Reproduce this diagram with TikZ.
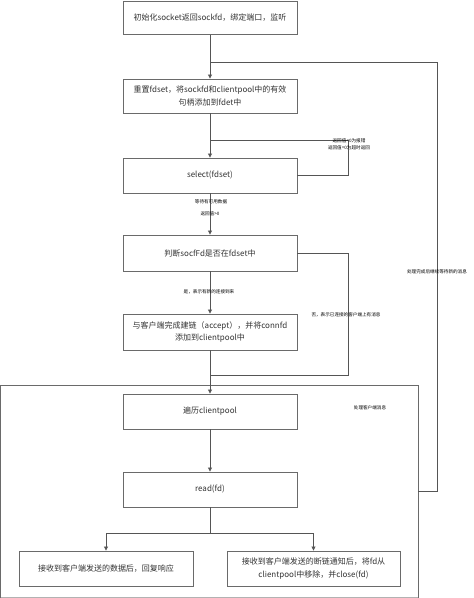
\documentclass[tikz,border=0pt]{standalone}
\usepackage{fontspec}
\setmainfont{Noto Sans CJK SC}
\usetikzlibrary{arrows.meta}
\definecolor{boxline}{HTML}{6A6A6A}
\definecolor{wire}{HTML}{555555}
\definecolor{txt}{HTML}{333333}
\tikzset{
  stepbox/.style={draw=boxline, line width=0.9pt, fill=white, minimum width=174pt, minimum height=35pt,
    align=center, text=txt, font=\fontsize{8}{12.5}\selectfont, inner sep=1pt},
  wireline/.style={draw=wire, line width=0.8pt},
  arr/.style={wireline, -{Triangle[width=4pt,length=4pt]}},
  small/.style={font=\fontsize{4.6}{7}\selectfont, text=black, inner sep=0pt, align=center}
}
\begin{document}
\begin{tikzpicture}[x=1pt,y=-1pt]
\useasboundingbox (0,0) rectangle (474,598);
% frame of client handling
\draw[draw=boxline, line width=0.8pt] (0.5,385) -- (418,385) -- (418,597.5);
\draw[draw=gray!60, line width=0.8pt] (0.5,597.5) -- (418,597.5);
\draw[draw=boxline, line width=0.8pt] (0.5,385) -- (0.5,597.5);

\node[stepbox, minimum height=33pt] (b1) at (210,18) {初始化socket返回sockfd，绑定端口，监听};
\node[stepbox, minimum height=34pt] (b2) at (210,96) {重置fdset，将sockfd和clientpool中的有效\\句柄添加到fdet中};
\node[stepbox] (b3) at (210,175.5) {select(fdset)};
\node[stepbox, minimum height=36pt] (b4) at (210,253) {判断socfFd是否在fdset中};
\node[stepbox, minimum height=36pt] (b5) at (210,332) {与客户端完成建链（accept），并将connfd\\添加到clientpool中};
\node[stepbox] (b6) at (210,411.5) {遍历clientpool};
\node[stepbox] (b7) at (210,489.5) {read(fd)};
\node[stepbox] (b8) at (106,568.5) {接收到客户端发送的数据后，回复响应};
\node[stepbox, minimum width=173pt] (b9) at (313.5,568.5) {接收到客户端发送的断链通知后，将fd从\\clientpool中移除，并close(fd)};

\coordinate (j1) at (210,62);
\coordinate (j2) at (210,140);
\coordinate (j3) at (210,375);
\coordinate (l2) at (348,140);
\coordinate (l3) at (348,375);
\coordinate (o1) at (437,62);
\coordinate (o2) at (418,491);
\coordinate (sp) at (210,533);

\draw[arr] (b1) -- (b2);
\draw[arr] (b2) -- (b3);
\draw[arr] (b3) -- (b4);
\draw[arr] (b4) -- (b5);
\draw[arr] (b5) -- (b6);
\draw[arr] (b6) -- (b7);
\draw[wireline] (b7) -- (sp);
\draw[arr] (sp) -| (b8);
\draw[arr] (sp) -| (b9);

\draw[wireline] (b3.east) -| (l2) -- (j2);
\draw[wireline] (b4.east) -| (l3) -- (j3);
\draw[wireline] (o2) -| (o1) -- (j1);

\node[small] (t1) at (349,141) {返回值<0为报错};
\node[small] (t2) at (349,148) {返回值=0为超时返回};
\node[small] (t3) at (211,202) {等待有可用数据};
\node[small] (t4) at (210,214) {返回值>0};
\node[small] (t5) at (209,292) {是，表示有新的连接到来};
\node[small] (t6) at (346,315) {否，表示已连接的客户端上有消息};
\node[small] (t7) at (437,272) {处理完成后继续等待新的消息};
\node[small] (t8) at (370,408) {处理客户端消息};
\end{tikzpicture}
\end{document}
